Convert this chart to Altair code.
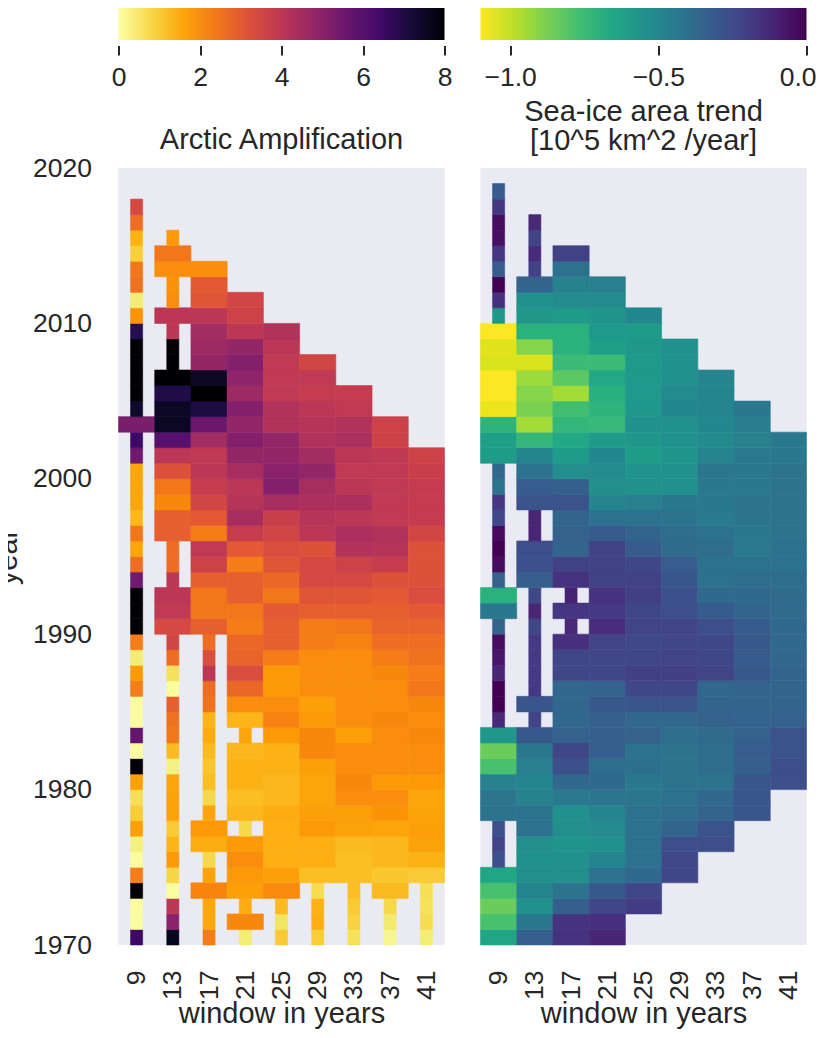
import altair as alt
import pandas as pd

FONT = "Liberation Sans"
TEXT = "#262626"
PANEL_BG = "#EAEAF2"

# ---------------- categories ----------------
WINDOWS = [9, 13, 17, 21, 25, 29, 33, 37, 41]
YEAR_TICKS = [1970, 1980, 1990, 2000, 2010, 2020]

# ---------------- panel a: Arctic Amplification ----------------
# first year of each window column, values from that year upwards
AA_FIRST_YEAR = [1970, 1970, 1970, 1970, 1970, 1970, 1970, 1970, 1970]
AA_W09 = [6.5, 0.05, 0.05, 8, 2.3, 0.05, 0.3, 1.7, 0.95, 0.65,
          1.7, 8, 0.05, 5.7, 0.05, 0.05, 2.3, 1.8, 0.4, 2.3,
          8, 8, 8, 5.5, 2.6, 1.6, 2.4, 1.3, 1.6, 1.6,
          1.6, 5.5, 6.5, 5.3, 7.4, 8, 8, 8, 8, 6.9,
          1.9, 0.4, 2.5, 2.4, 0.9, 1.4, 2.6, 3.4]
AA_W13 = [7.6, 5.0, 4.0, 0.05, 0.8, 1.8, 1.35, 1.0, 1.65, 1.65,
          1.6, 0.3, 1.25, 2.4, 2.5, 2.9, 0.05, 0.6, 2.6, 3.5,
          3.4, 3.9, 4.0, 4.0, 2.6, 2.6, 2.9, 2.9, 2.1, 2.4,
          3.2, 4.0, 6.0, 7.5, 7.5, 7.0, 8, 8, 8, 4.0,
          4.0, 2.0, 1.9, 2.0, 2.4, 1.8]
AA_W17 = [2.3, 1.55, 1.55, 2.15, 1.65, 0.75, 1.5, 1.8, 1.6, 0.75,
          1.2, 1.1, 1.25, 1.5, 1.35, 2.5, 2.6, 4.0, 3.3, 2.6,
          2.9, 2.4, 2.4, 2.9, 3.6, 3.9, 2.3, 3.0, 3.5, 3.8,
          4.0, 3.9, 4.5, 5.6, 7.1, 8, 7.5, 4.8, 4.6, 4.5,
          4.0, 3.1, 3.0, 2.0]
AA_W21 = [0.4, 2.1, 1.5, 1.7, 1.8, 2.0, 1.8, 0.75, 1.3, 1.2,
          1.4, 1.4, 1.3, 1.6, 1.35, 2.0, 2.7, 3.3, 2.8, 2.7,
          2.3, 2.4, 2.9, 2.9, 2.3, 3.0, 3.8, 4.4, 4.1, 4.0,
          4.4, 4.8, 5.1, 4.8, 5.1, 4.6, 4.9, 5.1, 4.8, 4.0,
          3.6, 3.5]
AA_W25 = [1.0, 0.55, 1.25, 2.05, 1.7, 1.45, 1.45, 1.45, 1.5, 1.3,
          1.3, 1.4, 1.4, 1.8, 2.2, 2.0, 1.8, 1.8, 2.3, 2.9,
          2.9, 3.0, 2.4, 2.7, 3.1, 3.3, 3.5, 3.7, 4.4, 5.1,
          5.0, 4.8, 4.8, 4.2, 4.2, 3.9, 3.9, 3.9, 4.0, 4.2]
AA_W29 = [0.95, 1.45, 1.4, 0.7, 1.2, 1.45, 1.45, 1.8, 1.7, 1.6,
          1.6, 1.7, 2.1, 2.1, 1.8, 1.7, 2.0, 2.0, 2.0, 2.3,
          2.3, 2.9, 3.1, 3.4, 3.4, 3.2, 4.0, 4.1, 4.3, 4.4,
          4.8, 4.5, 4.2, 4.1, 4.0, 3.8, 3.9, 3.5]
AA_W33 = [0.6, 0.85, 1.0, 1.2, 1.2, 1.2, 1.25, 1.65, 1.7, 2.0,
          2.1, 2.0, 2.0, 1.7, 2.0, 2.0, 2.0, 2.0, 2.0, 2.2,
          2.4, 2.9, 3.1, 3.4, 3.6, 4.2, 4.3, 4.0, 4.3, 4.0,
          3.9, 4.0, 4.3, 4.2, 3.9, 3.8]
AA_W37 = [0.2, 0.45, 0.75, 1.25, 1.05, 1.3, 1.3, 1.6, 1.9, 2.0,
          1.8, 2.0, 2.0, 2.0, 2.1, 2.0, 2.0, 2.1, 2.3, 2.6,
          2.8, 2.9, 3.0, 3.2, 3.8, 4.1, 4.2, 3.9, 3.9, 3.9,
          3.9, 3.9, 3.6, 3.6]
AA_W41 = [0.4, 0.7, 0.6, 0.65, 1.0, 1.4, 1.65, 1.7, 1.65, 1.6,
          1.8, 2.0, 2.0, 2.1, 2.0, 2.1, 2.4, 2.3, 2.5, 2.6,
          2.8, 3.0, 3.3, 3.2, 3.2, 3.2, 3.5, 3.8, 3.8, 3.8,
          3.7, 3.6]
# significance per cell: F = significant (full cell), n = not significant (narrow bar)
AA_SIG_W09 = "n" * 33 + "F" + "n" * 14
AA_SIG_W13 = "n" * 20 + "FFF" + "nnn" + "F" * 11 + "nnn" + "F" + "nn" + "FF" + "n"
AA_SIG_W17 = "nnnFnnFF" + "n" * 12 + "F" * 24
AA_SIG_W21 = "nFnFFFFn" + "FFFFF" + "n" + "F" * 28
AA_SIG_W25 = "nnn" + "F" * 37
AA_SIG_W29 = "nnnn" + "F" * 34
AA_SIG_W33 = "nnnn" + "F" * 32
AA_SIG_W37 = "nnn" + "F" * 31
AA_SIG_W41 = "nnnn" + "F" * 28

# ---------------- panel b: sea-ice area trend ----------------
SI_FIRST_YEAR = [1970, 1970, 1970, 1970, 1972, 1974, 1976, 1978, 1980]
SI_W09 = [-0.65, -0.78, -0.85, -0.78, -0.65, -0.27, -0.22, -0.27, -0.42, -0.43,
          -0.48, -0.78, -0.85, -0.58, -0.12, 0.0, 0.0, -0.11, -0.06, -0.03,
          -0.34, -0.44, -0.70, -0.34, -0.03, 0.0, -0.03, -0.24, -0.17, -0.42,
          -0.36, -0.60, -0.62, -0.71, -1.07, -1.10, -1.10, -1.04, -1.05, -1.10,
          -0.58, -0.15, 0.0, -0.32, -0.17, -0.04, -0.03, -0.17, -0.32]
SI_W13 = [-0.33, -0.44, -0.55, -0.50, -0.54, -0.55, -0.54, -0.41, -0.41, -0.48,
          -0.50, -0.47, -0.44, -0.30, -0.22, -0.29, -0.18, -0.18, -0.18, -0.18,
          -0.23, -0.11, -0.23, -0.33, -0.27, -0.26, -0.11, -0.11, -0.28, -0.32,
          -0.41, -0.50, -0.73, -0.95, -0.88, -0.90, -0.94, -1.04, -0.90, -0.70,
          -0.58, -0.55, -0.35, -0.21, -0.13, -0.22, -0.12]
SI_W17 = [-0.16, -0.16, -0.33, -0.42, -0.54, -0.55, -0.57, -0.54, -0.55, -0.45,
          -0.37, -0.27, -0.23, -0.34, -0.37, -0.36, -0.36, -0.23, -0.23, -0.15,
          -0.12, -0.17, -0.10, -0.16, -0.21, -0.35, -0.34, -0.35, -0.28, -0.33,
          -0.54, -0.60, -0.66, -0.73, -0.76, -0.95, -0.82, -0.75, -0.70, -0.70,
          -0.60, -0.52, -0.48, -0.41, -0.21]
SI_W21 = [-0.11, -0.15, -0.23, -0.30, -0.41, -0.50, -0.55, -0.52, -0.49, -0.43,
          -0.37, -0.39, -0.33, -0.33, -0.33, -0.30, -0.35, -0.23, -0.23, -0.22,
          -0.14, -0.18, -0.16, -0.21, -0.21, -0.21, -0.31, -0.41, -0.50, -0.54,
          -0.52, -0.51, -0.60, -0.74, -0.71, -0.69, -0.66, -0.75, -0.62, -0.59,
          -0.57, -0.52, -0.47]
SI_W25 = [-0.19, -0.23, -0.37, -0.41, -0.41, -0.41, -0.41, -0.43,
          -0.44, -0.40, -0.41, -0.34, -0.36, -0.29, -0.23, -0.20, -0.23, -0.24,
          -0.22, -0.23, -0.20, -0.21, -0.23, -0.31, -0.35, -0.41, -0.47, -0.55,
          -0.56, -0.60, -0.58, -0.55, -0.58, -0.59, -0.59, -0.59, -0.58, -0.60,
          -0.51]
SI_W29 = [-0.23, -0.24, -0.26, -0.35, -0.39, -0.41,
          -0.42, -0.42, -0.42, -0.39, -0.36, -0.28, -0.23, -0.20, -0.22, -0.23,
          -0.22, -0.26, -0.27, -0.29, -0.32, -0.38, -0.39, -0.42, -0.44, -0.55,
          -0.55, -0.57, -0.55, -0.55, -0.51, -0.52, -0.55, -0.55, -0.55]
SI_W33 = [-0.26, -0.28, -0.35, -0.36,
          -0.42, -0.39, -0.39, -0.38, -0.34, -0.35, -0.36, -0.22, -0.23, -0.23,
          -0.26, -0.31, -0.37, -0.41, -0.41, -0.39, -0.41, -0.45, -0.44, -0.44,
          -0.43, -0.49, -0.52, -0.51, -0.50, -0.50, -0.49]
SI_W37 = [-0.29, -0.29,
          -0.29, -0.33, -0.32, -0.34, -0.35, -0.35, -0.35, -0.30, -0.31, -0.30,
          -0.31, -0.35, -0.37, -0.39, -0.41, -0.45, -0.44, -0.42, -0.42, -0.44,
          -0.44, -0.45, -0.48, -0.46, -0.44]
SI_W41 = [-0.26, -0.26, -0.28, -0.28, -0.34, -0.35, -0.35, -0.35, -0.36, -0.37,
          -0.37, -0.38, -0.38, -0.39, -0.41, -0.41, -0.42, -0.42, -0.42, -0.42,
          -0.42, -0.44, -0.44]
SI_SIG_W09 = "FFFFF" + "nnn" + "FFFFFF" + "n" * 7 + "FF" + "n" * 8 + "F" * 9 + "n" * 9
SI_SIG_W13 = "F" * 14 + "n" + "F" + "n" * 7 + "FFF" + "nn" + "F" * 15 + "nnnn"
SI_SIG_W17 = "F" * 20 + "n" + "F" + "n" + "F" * 22
SI_SIG_W21 = "F" * 43
SI_SIG_W25 = "F" * 39
SI_SIG_W29 = "F" * 35
SI_SIG_W33 = "F" * 31
SI_SIG_W37 = "F" * 27
SI_SIG_W41 = "F" * 23

AA_COLUMNS = [AA_W09, AA_W13, AA_W17, AA_W21, AA_W25, AA_W29, AA_W33, AA_W37, AA_W41]
AA_SIGS = [AA_SIG_W09, AA_SIG_W13, AA_SIG_W17, AA_SIG_W21, AA_SIG_W25,
           AA_SIG_W29, AA_SIG_W33, AA_SIG_W37, AA_SIG_W41]
SI_COLUMNS = [SI_W09, SI_W13, SI_W17, SI_W21, SI_W25, SI_W29, SI_W33, SI_W37, SI_W41]
SI_SIGS = [SI_SIG_W09, SI_SIG_W13, SI_SIG_W17, SI_SIG_W21, SI_SIG_W25,
           SI_SIG_W29, SI_SIG_W33, SI_SIG_W37, SI_SIG_W41]

# colourbar ranges and ticks
AA_RANGE = [0, 8]
AA_CB_TICKS = [0, 2, 4, 6, 8]
SI_RANGE = [-1.1, 0.0]
SI_CB_TICKS = [-1.0, -0.5, 0.0]

INFERNO_R = ["#fcffa4", "#f6d746", "#fca50a", "#f37819", "#dd513a", "#bc3754",
             "#932667", "#6a176e", "#420a68", "#160b39", "#000004"]
VIRIDIS_R = ["#fde725", "#bddf26", "#7ad151", "#44bf70", "#22a884", "#21918c",
             "#2a788e", "#355f8d", "#414487", "#482475", "#440154"]


def build(first_years, columns, sigs):
    rows = []
    for w, y0, vals, sig in zip(WINDOWS, first_years, columns, sigs):
        assert len(vals) == len(sig), (w, len(vals), len(sig))
        for i, (v, s) in enumerate(zip(vals, sig)):
            rows.append({"window": w, "year": y0 + i, "value": v, "sig": 1 if s == "F" else 0})
    return pd.DataFrame(rows)


aa_df = build(AA_FIRST_YEAR, AA_COLUMNS, AA_SIGS)
si_df = build(SI_FIRST_YEAR, SI_COLUMNS, SI_SIGS)

W = 326
H = 777
CB_H = 32
TICK_FS = 26.5
LABEL_FS = 29


def heat(df, scheme, domain, title_text, show_y, title_offset):
    if show_y:
        y_axis = alt.Axis(values=YEAR_TICKS, format="d", title="year", ticks=False, tickSize=0,
                          domain=False, grid=False, labelPadding=27, titlePadding=10.5,
                          labelFontSize=TICK_FS, titleFontSize=LABEL_FS, labelColor=TEXT,
                          titleColor=TEXT, titleFontWeight="normal", labelOverlap=False,
                          labelFlush=False)
    else:
        y_axis = None
    x_axis = alt.Axis(values=WINDOWS, format="d", title="window in years", labelAngle=270,
                      ticks=False, tickSize=0, domain=False, grid=False, labelPadding=25,
                      titlePadding=0.5, labelFontSize=TICK_FS, titleFontSize=LABEL_FS,
                      labelColor=TEXT, titleColor=TEXT, titleFontWeight="normal",
                      labelOverlap=False, labelFlush=False)
    cscale = alt.Scale(scheme=scheme, reverse=True, domain=domain, clamp=True)
    return alt.Chart(df).transform_calculate(
        half="datum.sig == 1 ? 2 : 2/3"
    ).transform_calculate(
        x0="datum.window - datum.half",
        x1="datum.window + datum.half",
        year_end="datum.year + 1",
    ).mark_rect(strokeWidth=0.6).encode(
        x=alt.X("x0:Q", scale=alt.Scale(domain=[7, 43], nice=False, zero=False), axis=x_axis),
        x2="x1:Q",
        y=alt.Y("year:Q", scale=alt.Scale(domain=[1970, 2020], nice=False, zero=False), axis=y_axis),
        y2="year_end:Q",
        color=alt.Color("value:Q", legend=None, scale=cscale),
        stroke=alt.Stroke("value:Q", legend=None, scale=cscale),
    ).properties(
        width=W, height=H,
        view=alt.ViewBackground(fill=PANEL_BG, stroke=None),
        title=alt.Title(text=title_text, fontSize=LABEL_FS, color=TEXT, fontWeight="normal",
                        anchor="middle", frame="group", baseline="top", lineHeight=29,
                        offset=title_offset),
    )


def colorbar(stops, rng, ticks, fmt, flush_end):
    grad = alt.LinearGradient(
        gradient="linear",
        stops=[alt.GradientStop(color=c, offset=i / (len(stops) - 1)) for i, c in enumerate(stops)],
        x1=0, x2=1, y1=0, y2=0,
    )
    src = pd.DataFrame({"lo": [rng[0]], "hi": [rng[1]]})
    axis = alt.Axis(values=ticks, format=fmt, title=None, domain=False, ticks=True, tickSize=9.5,
                    tickWidth=2, tickColor=TEXT, offset=5.5, labelPadding=9.5, grid=False,
                    labelFontSize=TICK_FS, labelColor=TEXT, labelOverlap=False,
                    labelFlush=flush_end, labelFlushOffset=9.5 if flush_end else 0)
    return alt.Chart(src).mark_rect(color=grad).encode(
        x=alt.X("lo:Q", scale=alt.Scale(domain=rng, nice=False, zero=False), axis=axis),
        x2="hi:Q",
        y=alt.value(0), y2=alt.value(CB_H),
    ).properties(width=W, height=CB_H, view=alt.ViewBackground(fill=None, stroke=None))


cb_a = colorbar(INFERNO_R, AA_RANGE, AA_CB_TICKS, "d", False)
cb_b = colorbar(VIRIDIS_R, SI_RANGE, SI_CB_TICKS, ".1f", True)
heat_a = heat(aa_df, "inferno", AA_RANGE, "Arctic Amplification", True, 0)
heat_b = heat(si_df, "viridis", SI_RANGE, ["Sea-ice area trend", "[10^5 km^2 /year]"], False, 12.5)

chart = alt.concat(
    cb_a, cb_b, heat_a, heat_b,
    columns=2, spacing={"row": 128, "column": 36}, bounds="flush",
).resolve_scale(
    x="independent", y="independent", color="independent", stroke="independent"
).properties(
    padding={"left": -15.5, "top": 0, "right": -1, "bottom": 0},
).configure(
    font=FONT, background="white"
).configure_view(stroke=None)

chart.save("out.html", embed_options={"renderer": "svg", "actions": False})
